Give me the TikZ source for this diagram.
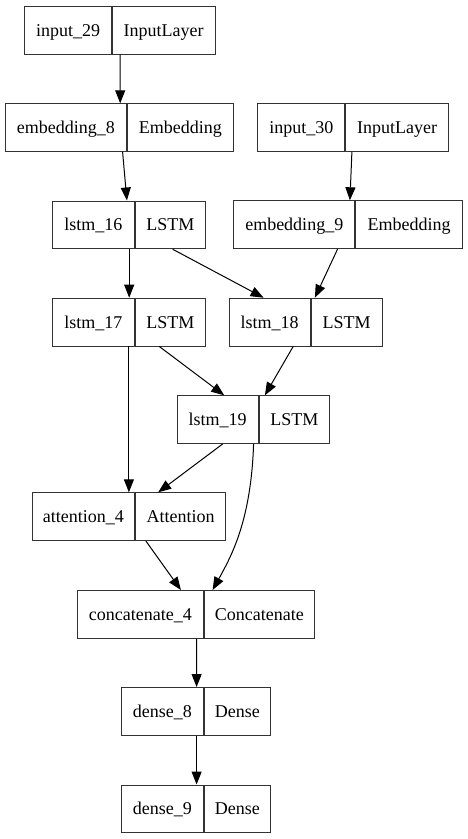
\documentclass[tikz,border=0pt]{standalone}
\usepackage{fontspec}
\setmainfont{Liberation Serif}
\newfontfamily\layerfont{Liberation Serif}
\usetikzlibrary{arrows.meta,positioning}

\begin{document}
\begin{tikzpicture}[x=1pt, y=-1pt,
  fld/.style={draw=black!80, line width=0.9pt, minimum height=47.8pt, inner sep=0pt, anchor=north west,
    text height=13pt, text depth=1pt, font=\layerfont\fontsize{18pt}{20pt}\selectfont},
  edge/.style={-{Triangle[length=13pt, width=10pt]}, line width=1pt}]
\useasboundingbox (0,0) rectangle (467,839);
% layers: name field, then type field right of it
\node[fld, minimum width=86.7pt] (in29) at (24.3,5.7) {input\_29};
\node[fld, minimum width=102.7pt, right=0pt of in29] (in29t) {InputLayer};
\node[fld, minimum width=121.6pt] (emb8) at (4.7,103.3) {embedding\_8};
\node[fld, minimum width=105.4pt, right=0pt of emb8] (emb8t) {Embedding};
\node[fld, minimum width=87pt] (in30) at (257.3,103.3) {input\_30};
\node[fld, minimum width=103pt, right=0pt of in30] (in30t) {InputLayer};
\node[fld, minimum width=81.4pt] (lstm16) at (52.3,200.5) {lstm\_16};
\node[fld, minimum width=70.6pt, right=0pt of lstm16] (lstm16t) {LSTM};
\node[fld, minimum width=121pt] (emb9) at (233.3,200.3) {embedding\_9};
\node[fld, minimum width=106.7pt, right=0pt of emb9] (emb9t) {Embedding};
\node[fld, minimum width=81.4pt] (lstm17) at (52.3,297.7) {lstm\_17};
\node[fld, minimum width=70.6pt, right=0pt of lstm17] (lstm17t) {LSTM};
\node[fld, minimum width=81pt] (lstm18) at (228.7,297.7) {lstm\_18};
\node[fld, minimum width=71pt, right=0pt of lstm18] (lstm18t) {LSTM};
\node[fld, minimum width=81pt] (lstm19) at (176.7,395.3) {lstm\_19};
\node[fld, minimum width=70.6pt, right=0pt of lstm19] (lstm19t) {LSTM};
\node[fld, minimum width=102.6pt] (att) at (31.7,492.3) {attention\_4};
\node[fld, minimum width=90pt, right=0pt of att] (attt) {Attention};
\node[fld, minimum width=125.4pt] (concat) at (77.3,590) {concatenate\_4};
\node[fld, minimum width=110.6pt, right=0pt of concat] (concatt) {Concatenate};
\node[fld, minimum width=81.7pt] (dense8) at (121,687) {dense\_8};
\node[fld, minimum width=66.6pt, right=0pt of dense8] (dense8t) {Dense};
\node[fld, minimum width=81.7pt] (dense9) at (121,784.5) {dense\_9};
\node[fld, minimum width=66.6pt, right=0pt of dense9] (dense9t) {Dense};
% edges
\draw[edge] ([xshift=8.3pt]in29.south east) -- ([xshift=-7pt]emb8.north east);
\draw[edge] ([xshift=-4.6pt]emb8.south east) -- ([xshift=-7.7pt]lstm16.north east);
\draw[edge] ([xshift=6.7pt]in30.south east) -- ([xshift=-5.3pt]emb9.north east);
\draw[edge] ([xshift=-5.4pt]lstm16.south east) -- ([xshift=-5.4pt]lstm17.north east);
\draw[edge] ([xshift=38pt]lstm16.south east) -- ([xshift=-47pt]lstm18.north east);
\draw[edge] ([xshift=-17.6pt]emb9.south east) -- ([xshift=4.3pt]lstm18.north east);
\draw[edge] ([xshift=24.6pt]lstm17.south east) -- ([xshift=-34.4pt]lstm19.north east);
\draw[edge] ([xshift=-17.4pt]lstm18.south east) -- ([xshift=6.3pt]lstm19.north east);
\draw[edge] ([xshift=-5.7pt]lstm17.south east) -- ([xshift=-6.3pt]att.north east);
\draw[edge] ([xshift=-36pt]lstm19.south east) -- ([xshift=23pt]att.north east);
\draw[edge] ([xshift=-5pt]lstm19.south east) .. controls (251,520) and (232,555) .. ([xshift=9pt]concat.north east);
\draw[edge] ([xshift=10.7pt]att.south east) -- ([xshift=-22.7pt]concat.north east);
\draw[edge] ([xshift=-7pt]concat.south east) -- ([xshift=-7pt]dense8.north east);
\draw[edge] ([xshift=-7pt]dense8.south east) -- ([xshift=-7pt]dense9.north east);
\end{tikzpicture}
\end{document}
